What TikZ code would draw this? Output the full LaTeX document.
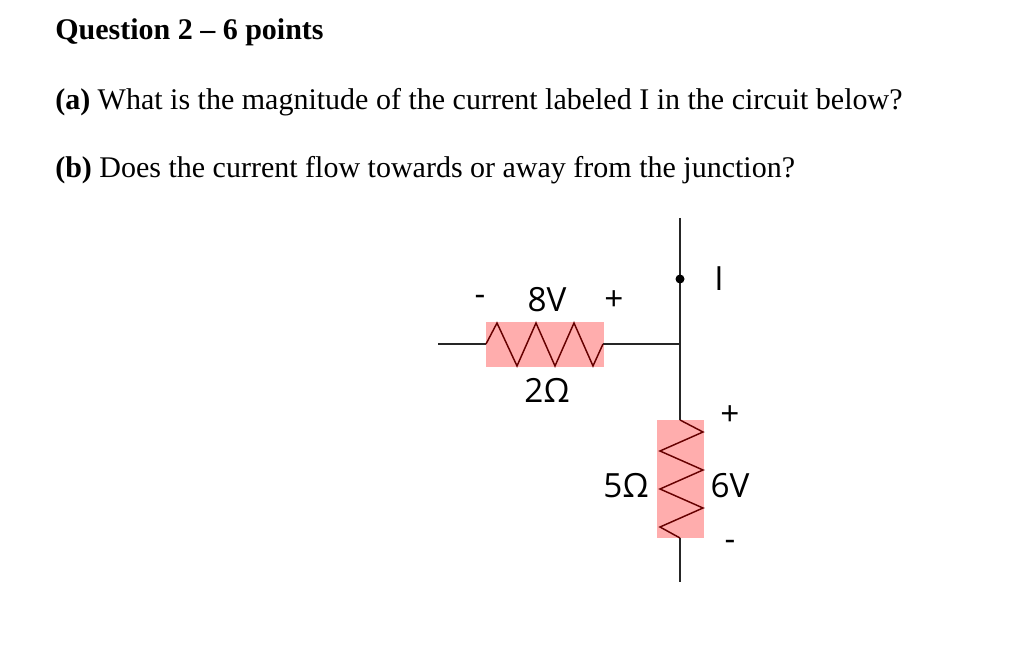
\documentclass[tikz,border=0pt]{standalone}
\usepackage{fontspec}
\setmainfont{Liberation Serif}
\newfontfamily\circfont{Open Sans}
\begin{document}
\begin{tikzpicture}[x=0.75pt,y=-0.75pt,
  txt/.style={anchor=base west,inner sep=0pt,font=\fontsize{22.5}{27}\selectfont},
  lab/.style={inner sep=0pt,font=\circfont\fontsize{25}{30}\selectfont},
  wire/.style={line width=1.2pt,black!85},
  zz/.style={line width=1.1pt,red!40!black},
  pinkbox/.style={fill=red!32,draw=none}]
\useasboundingbox (0,0) rectangle (1024,670);
\node[txt] (t0) at (55,40) {\textbf{Question 2 – 6 points}};
\node[txt] (t1) at (55,110) {\textbf{(a)} What is the magnitude of the current labeled I in the circuit below?};
\node[txt] (t2) at (55,178) {\textbf{(b)} Does the current flow towards or away from the junction?};
% boxes
\fill[pinkbox] (486,322) rectangle (604,367);
\fill[pinkbox] (657,420) rectangle (704,538);
% coordinates
\coordinate (L) at (438,344);
\coordinate (RA) at (486,344);
\coordinate (RB) at (603,344);
\coordinate (J) at (680,344);
\coordinate (T) at (680,218);
\coordinate (VA) at (680,420);
\coordinate (VB) at (680,538);
\coordinate (B) at (680,582);
\draw[wire] (L) -- (RA);
\draw[wire] (RB) -- (J);
\draw[wire] (T) -- (VA);
\draw[wire] (VB) -- (B);
\draw[zz,line join=miter] (RA) -- (497,323) -- (517,366) -- (536,323) -- (555,366) -- (574,323) -- (593,366) -- (RB);
\draw[zz,line join=miter] (VA) -- (703,432) -- (660,451) -- (703,470) -- (660,489) -- (703,508) -- (660,527) -- (VB);
\fill (680,279) circle (4.5);
\node[lab] (I) at (719,279) {I};
\node[lab] (m1) at (480,300) {-};
\node[lab] (v8) at (547,300) {8V};
\node[lab] (p1) at (614,301) {+};
\node[lab] (r2) at (547,390) {2Ω};
\node[lab] (p2) at (730,416) {+};
\node[lab] (r5) at (626,486) {5Ω};
\node[lab] (v6) at (730,486) {6V};
\node[lab] (m2) at (730,545) {-};
\end{tikzpicture}
\end{document}
